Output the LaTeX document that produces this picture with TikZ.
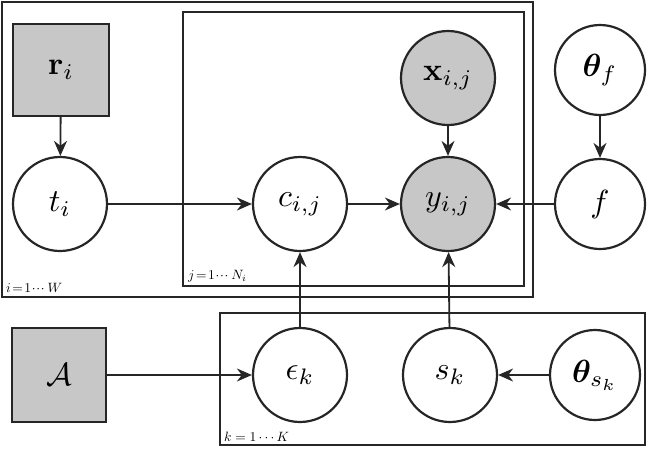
\documentclass[tikz,border=0pt]{standalone}
\usepackage{amsmath,bm}
\usetikzlibrary{arrows.meta}
\newcommand{\myBig}[1]{\scalebox{3.2}{#1}}
\newcommand{\myLab}[1]{\scalebox{1.35}{#1}}
\begin{document}
\begin{tikzpicture}[x=1pt,y=-1pt,
  lw/.style={line width=2.2pt,draw=black!85},
  var/.style={circle,lw,fill=white,minimum size=94pt,inner sep=0pt},
  obs/.style={var,fill=black!22},
  box/.style={rectangle,lw,fill=black!22,minimum width=96pt,minimum height=92pt,inner sep=0pt},
  plate/.style={lw,line width=1.8pt},
  edge/.style={lw,line width=1.8pt,-{Stealth[length=15pt,width=13pt]}},
  lab/.style={inner sep=0pt,anchor=south west}]
\useasboundingbox (0,0) rectangle (652,450);
\draw[plate] (2,2) rectangle (533,297);
\draw[plate] (183,12) rectangle (524,286);
\draw[plate] (220,313) rectangle (645,445);
\node[lab] (li) at (6,293) {\myLab{$i\!=\!1\!\cdot\!\cdot\!\cdot W$}};
\node[lab] (lj) at (188,282) {\myLab{$j\!=\!1\!\cdot\!\cdot\!\cdot N_i$}};
\node[lab] (lk) at (224,442) {\myLab{$k=1\cdots K$}};
\node[box] (r) at (61,70) {\myBig{$\mathbf{r}_i$}};
\node[var] (t) at (60,204) {\myBig{$t_i$}};
\node[var] (c) at (300,204) {\myBig{$c_{i,j}$}};
\node[obs] (y) at (448,204) {\myBig{$y_{i,j}$}};
\node[obs] (x) at (448,78) {\myBig{$\mathbf{x}_{i,j}$}};
\node[var,minimum size=90pt] (tf) at (600,70) {\myBig{$\bm{\theta}_f$}};
\node[var,minimum size=90pt] (f) at (600,204) {\myBig{$f$}};
\node[box,minimum width=94pt,minimum height=94pt] (A) at (59,375) {\myBig{$\mathcal{A}$}};
\node[var] (e) at (300,375) {\myBig{$\epsilon_k$}};
\node[var] (s) at (450,375) {\myBig{$s_k$}};
\node[var,minimum size=90pt] (ts) at (595,375) {\myBig{$\bm{\theta}_{s_k}$}};
\draw[edge] (r) -- (t);
\draw[edge] (t) -- (c);
\draw[edge] (c) -- (y);
\draw[edge] (x) -- (y);
\draw[edge] (tf) -- (f);
\draw[edge] (f) -- (y);
\draw[edge] (A) -- (e);
\draw[edge] (e) -- (c);
\draw[edge] (s) -- (y);
\draw[edge] (ts) -- (s);
\end{tikzpicture}
\end{document}
